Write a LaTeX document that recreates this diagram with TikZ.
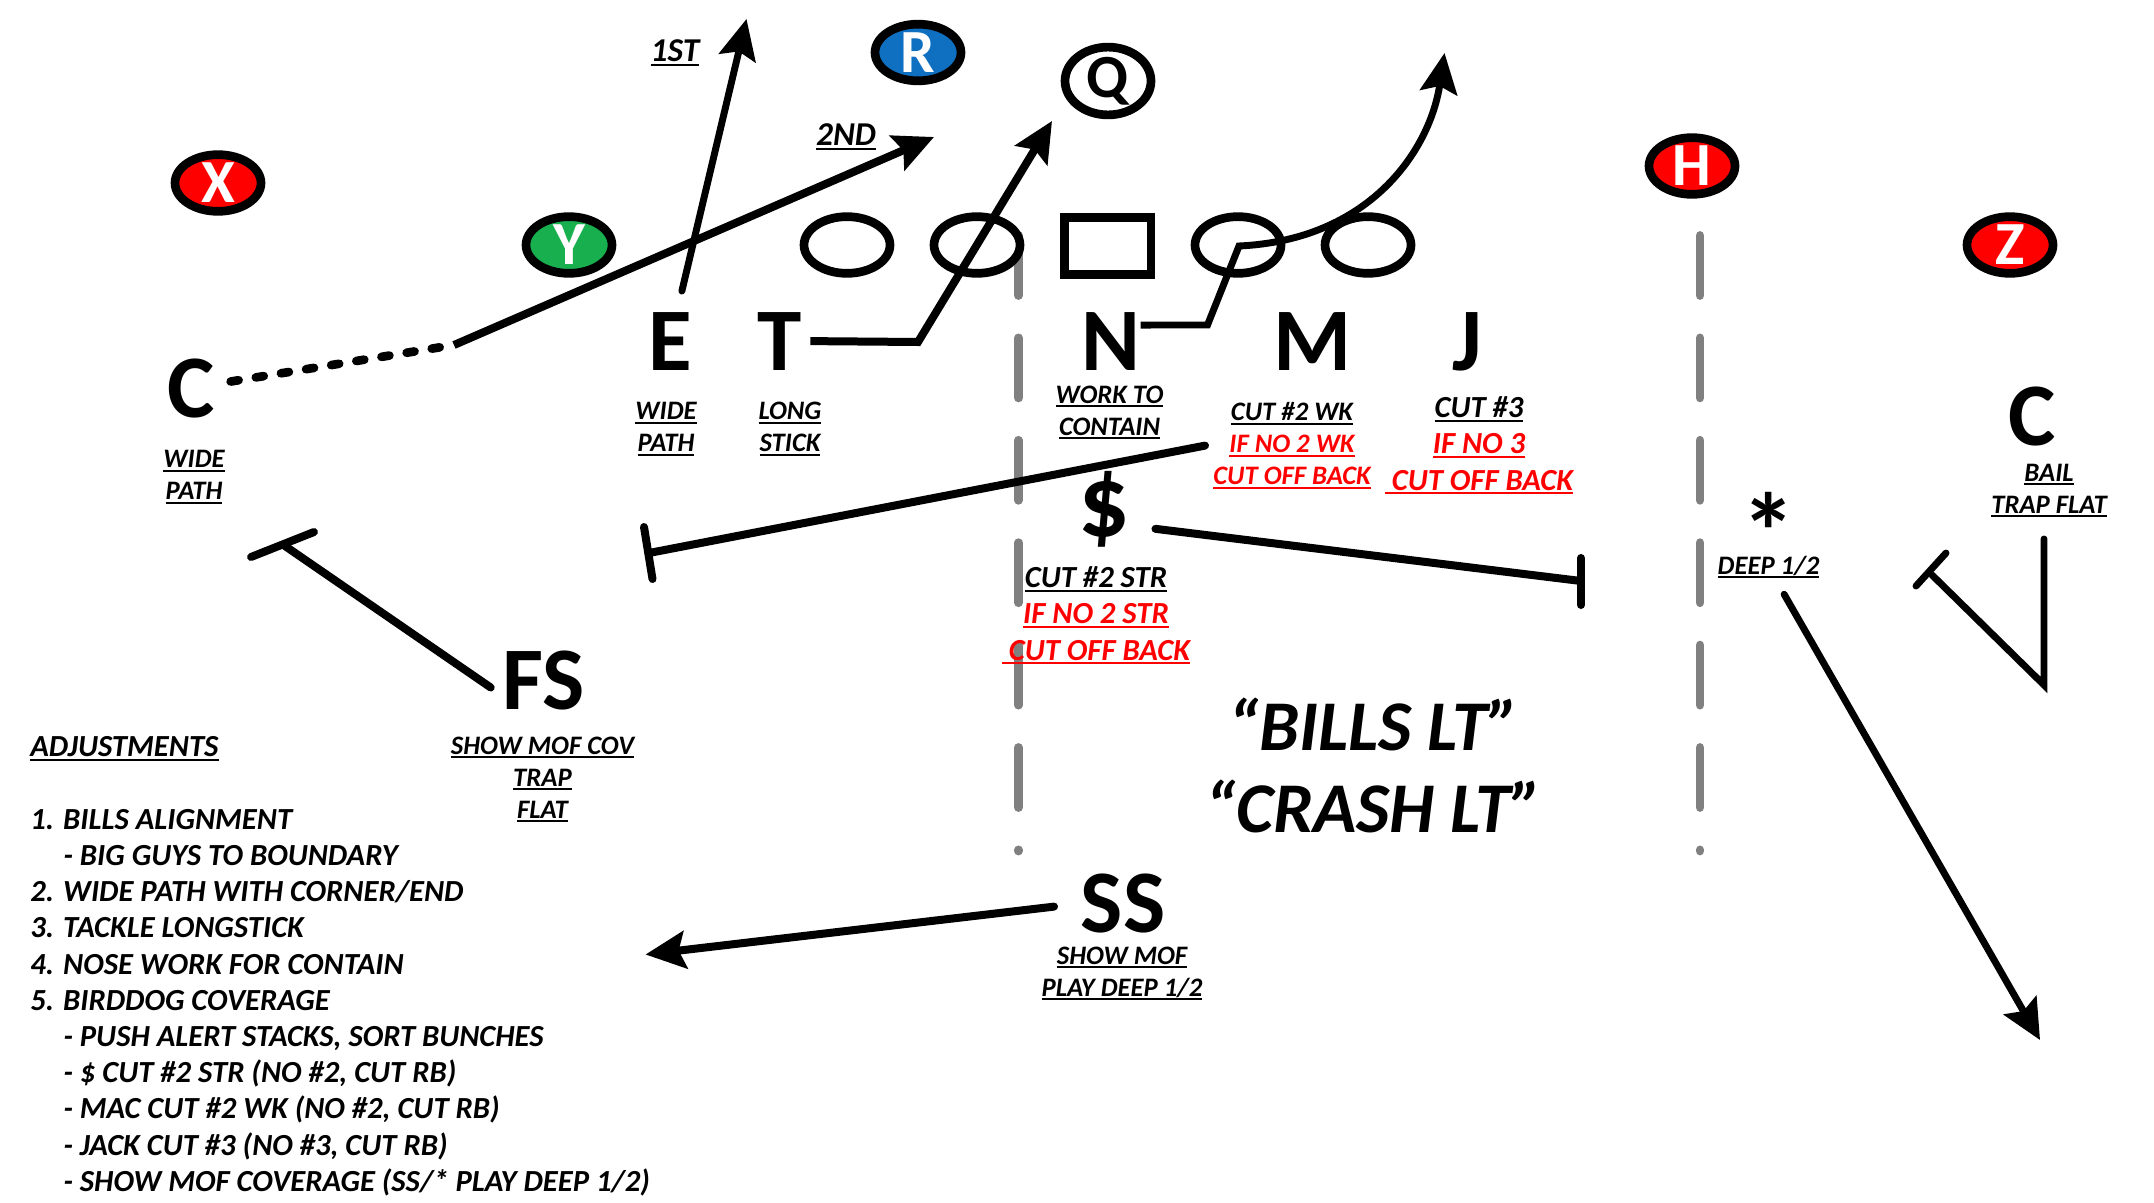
\documentclass[tikz,border=0pt]{standalone}
\usepackage{fontspec}
\setmainfont{Carlito}
\usetikzlibrary{arrows.meta,shapes.geometric,positioning,calc}
\newcommand{\uline}[1]{\setbox0=\hbox{#1}\hbox{\copy0\kern-\wd0\vrule width\wd0 height -1.6pt depth 3.3pt}}
\newcommand{\sub}{\hspace*{25pt}}
\definecolor{recvblue}{HTML}{0F6FC0}
\definecolor{recvgreen}{HTML}{18B04E}
\definecolor{hashgray}{HTML}{808080}
\newcommand{\redline}[1]{\textcolor{red}{\uline{#1}}}
\tikzset{
  player/.style={ellipse,draw=black,line width=6.5pt,minimum width=64.5pt,minimum height=42.5pt,inner sep=0pt,
    font=\fontsize{46}{46}\selectfont\bfseries},
  lineman/.style={player,fill=white},
  skill/.style={fill=#1,text=white},
  letter/.style={font=\fontsize{67}{70}\selectfont\bfseries,inner sep=0pt,anchor=base},
  note/.style={font=\fontsize{20}{24}\selectfont\bfseries\itshape,align=center,inner sep=0pt,anchor=base},
  notebig/.style={font=\fontsize{23}{27.15}\selectfont\bfseries\itshape,align=center,inner sep=0pt,anchor=base},
  noteroute/.style={font=\fontsize{25}{30}\selectfont\bfseries\itshape,inner sep=0pt,anchor=base},
  callname/.style={font=\fontsize{53.5}{60}\selectfont\bfseries\itshape,inner sep=0pt,anchor=base},
  route/.style={line width=6pt,-{Stealth[length=30pt,width=28pt,inset=5pt]}},
  routethin/.style={route,line width=5.2pt},
  block/.style={line width=6pt,line cap=round},
}
\begin{document}
\begin{tikzpicture}[x=0.75pt,y=-0.75pt]
\useasboundingbox (0,0) rectangle (2154,1202);
%hash lines
\foreach \xhash/\nm in {1018.5/lefthash,1700/righthash}{
  \coordinate (\nm top) at (\xhash,235.5);
  \coordinate (\nm end) at (\xhash,851);
  \draw[hashgray,line width=6.6pt,line cap=round,dash pattern=on 45pt off 31.8pt] (\nm top) -- (\nm end);
}
%offense
\node[player,skill=red] (X) at (218,183) {X};
\node[player,skill=recvgreen] (Y) at (569,245) {Y};
\node[player,skill=recvblue] (R) at (918,52.5) {R};
\node[player,skill=red] (H) at (1692,166) {H};
\node[player,skill=red] (Z) at (2010,245) {Z};
\node[lineman] (Q) at (1108,81) {Q};
\foreach \xol/\nm in {847/LT,977/LG,1238/RG,1368/RT}{
  \node[lineman] (\nm) at (\xol,245) {};
}
\node[draw=black,line width=6.5pt,fill=white,minimum width=65pt,minimum height=43pt,inner sep=0pt] (center) at (1107.5,246) {};
%defense
\node[letter] (cornerL) at (191,417) {C};
\node[letter] (endE) at (670,370) {E};
\node[letter] (tackleT) at (780,370) {T};
\node[letter] (noseN) at (1111,370) {N};
\node[letter] (macM) at (1312.5,370) {M};
\node[letter] (jackJ) at (1467,370) {J};
\node[letter] (cornerR) at (2032,445) {C};
\node[letter,font=\fontsize{76}{80}\selectfont\bfseries] (dollar) at (1104.5,536) {\$};
\node[letter,font=\fontsize{82}{86}\selectfont\bfseries] (star) at (1768.5,570) {*};
\node[letter] (FS) at (544,709.5) {FS};
\node[letter] (SS) at (1123,932.5) {SS};
%notes
\node[noteroute] (firstnote) at (675,61.5) {\uline{1ST}};
\node[noteroute] (secondnote) at (846,146) {\uline{2ND}};
\node[note] (cornerLnote) at (194,499.5) {\uline{WIDE}\\\uline{PATH}};
\node[note] (endnote) at (666,451.5) {\uline{WIDE}\\\uline{PATH}};
\node[note] (tacklenote) at (790,451.5) {\uline{LONG}\\\uline{STICK}};
\node[note] (nosenote) at (1109.5,435) {\uline{WORK TO}\\\uline{CONTAIN}};
\node[note] (macnote) at (1292,484.5) {\uline{CUT \#2 WK}\\\redline{IF NO 2 WK}\\\redline{CUT OFF BACK}};
\node[notebig] (jacknote) at (1479,490) {\uline{CUT \#3}\\\redline{IF NO 3}\\\redline{~CUT OFF BACK}};
\node[note] (cornerRnote) at (2049,513) {\uline{BAIL}\\\uline{TRAP FLAT}};
\node[notebig] (dollarnote) at (1096,660) {\uline{CUT \#2 STR}\\\redline{IF NO 2 STR}\\\redline{~CUT OFF BACK}};
\node[note] (starnote) at (1768.5,574) {\uline{DEEP 1/2}};
\node[note] (FSnote) at (542.5,818) {\uline{SHOW MOF COV}\\\uline{TRAP}\\\uline{FLAT}};
\node[note] (SSnote) at (1122,996) {\uline{SHOW MOF}\\\uline{PLAY DEEP 1/2}};
\node[callname] (bills) at (1374,750.5) {“BILLS LT”};
\node[callname] (crash) at (1374,832.5) {“CRASH LT”};
\node[notebig,align=left,anchor=north west] (adjust) at (30,736.5) {\uline{ADJUSTMENTS}\\\mbox{}\\
1. BILLS ALIGNMENT\\
\sub- BIG GUYS TO BOUNDARY\\
2. WIDE PATH WITH CORNER/END\\
3. TACKLE LONGSTICK\\
4. NOSE WORK FOR CONTAIN\\
5. BIRDDOG COVERAGE\\
\sub- PUSH ALERT STACKS, SORT BUNCHES\\
\sub- \$ CUT \#2 STR (NO \#2, CUT RB)\\
\sub- MAC CUT \#2 WK (NO \#2, CUT RB)\\
\sub- JACK CUT \#3 (NO \#3, CUT RB)\\
\sub- SHOW MOF COVERAGE (SS/* PLAY DEEP 1/2)};
%routes
\coordinate (bendC) at (454,345);
\coordinate (tipC) at (934,137);
\coordinate (tipE) at (746.5,19);
\coordinate (bendT) at (918,342);
\coordinate (tipT) at (1052,121);
\coordinate (bendN) at (1207.5,325);
\coordinate (turnN) at (1239,246);
\coordinate (tipN) at (1444.5,53);
\coordinate (barM) at (649,553);
\coordinate (barMa) at (644,527);
\coordinate (barMb) at (652.5,579);
\coordinate (barD) at (1581,581);
\coordinate (barDa) at (1581,558);
\coordinate (barDb) at (1581,605);
\coordinate (barFS) at (285,546);
\coordinate (barFSa) at (251,557);
\coordinate (barFSb) at (314,532);
\coordinate (veeC) at (2044,685);
\coordinate (barC) at (1932,575);
\coordinate (barCa) at (1946,553);
\coordinate (barCb) at (1916,586);
\coordinate (tipS) at (2040,1040);
\coordinate (tipSS) at (645.5,954.5);
\draw[line width=6.5pt,line cap=round,dash pattern=on 6pt off 13.1pt,shorten <=12pt] (cornerL) -- (bendC);
\draw[route] (bendC) -- (tipC);
\draw[routethin,line cap=round,shorten <=16pt] ([xshift=-3pt]endE) -- (tipE);
\draw[route,shorten <=6pt] (tackleT.east) -- (bendT) -- (tipT);
\draw[routethin] ([yshift=12pt]noseN.east) -- (bendN) -- (turnN) .. controls (1370,240) and (1430,150) .. (tipN);
\draw[block] ([xshift=-6pt]macnote.west) -- (barM);
\draw[block] (barMa) -- (barMb);
\draw[block] ([shift={(25,20)}]dollar.east) -- (barD);
\draw[block] (barDa) -- (barDb);
\draw[block] ([shift={(-12,7)}]FS.west) -- (barFS);
\draw[block] (barFSa) -- (barFSb);
\draw[line width=5.2pt,line join=miter,line cap=round,shorten <=16pt] (cornerRnote.south -| veeC) -- (veeC) -- (barC);
\draw[block,line width=5.2pt] (barCa) -- (barCb);
\draw[routethin,line cap=round,shorten <=13.5pt] ([xshift=5pt]starnote.south) -- (tipS);
\draw[route,line cap=round,shorten <=20pt] (SS.west) -- (tipSS);
\end{tikzpicture}
\end{document}
